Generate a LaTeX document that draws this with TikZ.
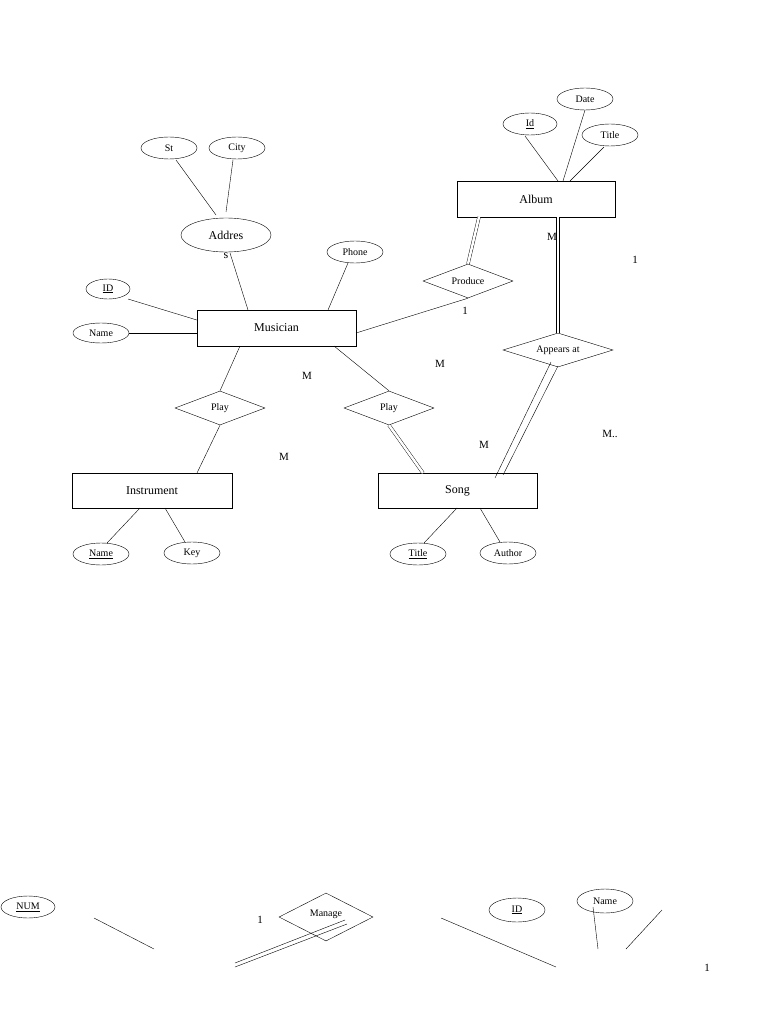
\documentclass[tikz,border=0pt]{standalone}
\usepackage{fontspec}
\setmainfont{Liberation Serif}
\usetikzlibrary{shapes.geometric}
\begin{document}
\begin{tikzpicture}[x=1pt,y=-1pt,
  ent/.style={draw,rectangle,minimum width=159pt,minimum height=36pt,font=\fontsize{12}{13}\selectfont},
  att/.style={draw,ellipse,minimum width=56pt,minimum height=22pt,inner sep=0pt,font=\fontsize{10}{11}\selectfont},
  rel/.style={draw,diamond,aspect=2.6,minimum width=90pt,minimum height=34pt,inner sep=0pt,font=\fontsize{10}{11}\selectfont},
  lbl/.style={font=\fontsize{11}{12}\selectfont,inner sep=0pt},
  dbl/.style={double,double distance=2.5pt}]
\useasboundingbox (0,0) rectangle (768,1024);
% entities
\node[ent] (mus) at (276.5,328) {Musician};
\node[ent,minimum width=158pt] (alb) at (536,199) {Album};
\node[ent,minimum width=160pt,minimum height=35pt] (ins) at (152,490.5) {Instrument};
\node[ent,minimum width=159pt,minimum height=35pt] (song) at (457.5,490.5) {Song};
% relationships
\node[rel] (prod) at (468,281) {Produce};
\node[rel,minimum width=110pt] (app) at (558,350) {Appears at};
\node[rel] (play1) at (220,408) {Play};
\node[rel] (play2) at (389,408) {Play};
% attributes
\node[att] (st) at (169,148) {St};
\node[att] (city) at (237,148) {City};
\node[att,minimum width=90pt,minimum height=34pt,font=\fontsize{12}{13}\selectfont] (addr) at (226,235) {Addres};
\node[lbl,font=\fontsize{12}{13}\selectfont] (addrs) at (226,256) {s};
\node[att] (phone) at (355,252) {Phone};
\node[att,minimum width=44pt,minimum height=20pt] (id) at (108,289) {\underline{ID}};
\node[att,minimum height=20pt] (name) at (101,333) {Name};
\node[att,minimum width=54pt] (aid) at (530,124) {\underline{Id}};
\node[att] (date) at (585,99) {Date};
\node[att] (atitle) at (610,135) {Title};
\node[att] (iname) at (101,554) {\underline{Name}};
\node[att] (key) at (192,553) {Key};
\node[att] (stitle) at (418,554) {\underline{Title}};
\node[att] (author) at (508,553) {Author};
% attribute links
\draw (176,160) -- (216,215);
\draw (233,160) -- (226,212);
\draw (230,253) -- (248,310);
\draw (348,263) -- (328,310);
\draw (128,299) -- (mus.west |- 0,320);
\draw (name.east) -- (mus.west |- 0,333);
\draw (525,136) -- (558,181);
\draw (585,110) -- (563,181);
\draw (604,147) -- (570,181);
\draw (140,508) -- (107,543);
\draw (165,508) -- (185,542);
\draw (457,508) -- (424,543);
\draw (480,508) -- (500,542);
% relationship links
\draw (356,333) -- (prod.south);
\draw[dbl] (prod.north) -- (479,217);
\draw[dbl] (558,217) -- (app.north);
\draw (551,362) -- (495,478);
\draw (558,366) -- (503,475);
\draw (240,346) -- (play1.north);
\draw (play1.south) -- (197,473);
\draw (334,346) -- (play2.north);
\draw[dbl] (play2.south) -- (423,473);
% cardinalities
\node[lbl] at (552,237) {M};
\node[lbl] at (635,260) {1};
\node[lbl] at (465,311) {1};
\node[lbl] at (440,364) {M};
\node[lbl] at (307,376) {M};
\node[lbl] at (284,457) {M};
\node[lbl] at (484,445) {M};
\node[lbl] at (610,434) {M..};
% bottom fragment
\node[att,minimum width=54pt] (num) at (28,907) {\underline{NUM}};
\draw (94,918) -- (154,949);
\node[lbl] at (260,920) {1};
\node[rel,aspect=1.95,minimum width=94pt,minimum height=48pt] (man) at (326,917) {};
\node[font=\fontsize{10}{11}\selectfont] at (326,914) {Manage};
\draw (235,963) -- (345,920);
\draw (235,967) -- (347,924);
\draw (441,918) -- (556,967);
\node[att,minimum height=24pt] (bid) at (517,910) {\underline{ID}};
\node[att,minimum height=24pt] (bname) at (605,901) {Name};
\draw (593,907) -- (598,949);
\draw (662,910) -- (626,949);
\node[lbl] at (707,968) {1};
\end{tikzpicture}
\end{document}
